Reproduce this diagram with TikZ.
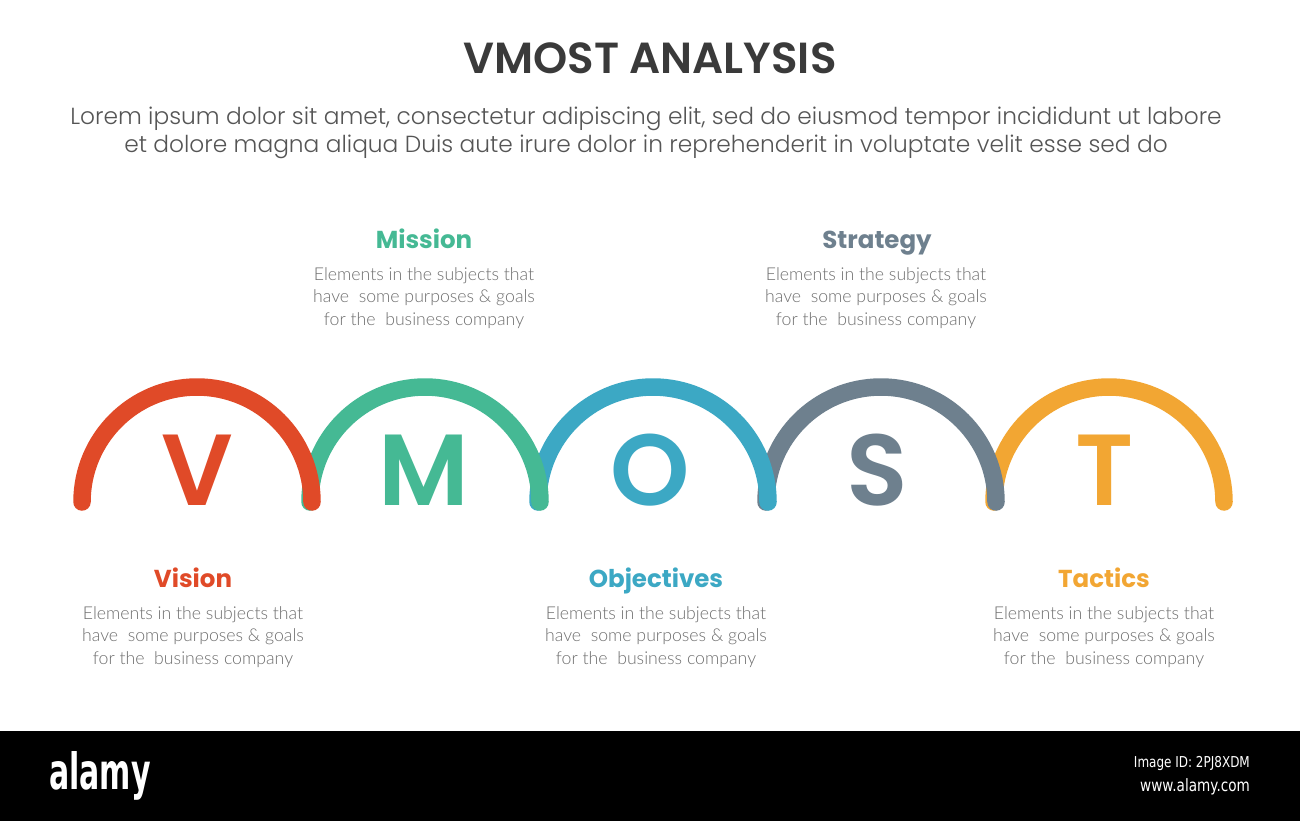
\documentclass[tikz,border=0pt]{standalone}
\usepackage{fontspec}
\setmainfont{Lato}[UprightFont=* Light]
\newfontfamily\pop{Poppins}[UprightFont=* Light]
\newfontfamily\popb{Poppins}[UprightFont=* Bold]
\newfontfamily\popsb{Poppins}[UprightFont=* SemiBold]
\newfontfamily\dv{DejaVu Sans}
\definecolor{cV}{HTML}{E04A28}
\definecolor{cM}{HTML}{45B994}
\definecolor{cO}{HTML}{3CA8C4}
\definecolor{cS}{HTML}{6E808E}
\definecolor{cT}{HTML}{F2A633}
\definecolor{tgray}{HTML}{6E6E6E}
\definecolor{ttl}{HTML}{3A3A3A}
\definecolor{sub}{HTML}{555555}
\tikzset{
  arcline/.style={line width=17.5pt, line cap=round},
  letter/.style={font=\fontsize{101}{101}\selectfont\popsb, inner sep=0pt, anchor=base},
  head/.style={font=\fontsize{24.5}{26}\selectfont\popb, inner sep=0pt, anchor=base},
  body/.style={font=\fontsize{17.7}{22.5}\selectfont, text=tgray, align=center, inner sep=0pt, anchor=north},
}
\begin{document}
\begin{tikzpicture}[x=1pt,y=-1pt]
\useasboundingbox (0,0) rectangle (1300,821);
\fill[white] (0,0) rectangle (1300,731);
\fill[black] (0,731) rectangle (1300,821);
% title
\node[font=\fontsize{43.5}{46}\selectfont\popsb, text=ttl, inner sep=0pt] (title) at (650,58) {VMOST ANALYSIS};
\node[font=\fontsize{23.3}{28.3}\selectfont\pop, text=sub, align=center, inner sep=0pt] (subtitle) at (646,133) {Lorem ipsum dolor sit amet, consectetur adipiscing elit, sed do eiusmod tempor incididunt ut labore\\et dolore magna aliqua Duis aute irure dolor in reprehenderit in voluptate velit esse sed do};
% arcs (drawn right to left so earlier ones lie on top)
\draw[arcline, cT] (994,502) arc (180:360:115);
\draw[arcline, cS] (766,502) arc (180:360:115);
\draw[arcline, cO] (538,502) arc (180:360:115);
\draw[arcline, cM] (310,502) arc (180:360:115);
\draw[arcline, cV] (82,502) arc (180:360:115);
% letters
\node[letter, text=cV] (lV) at (197,505) {V};
\node[letter, text=cM] (lM) at (424,505) {M};
\node[letter, text=cO] (lO) at (650,505) {O};
\node[letter, text=cS] (lS) at (877,505) {S};
\node[letter, text=cT] (lT) at (1105,505) {T};
% headings
\node[head, text=cV] (hV) at (193,587) {Vision};
\node[head, text=cM] (hM) at (424,248) {Mission};
\node[head, text=cO] (hO) at (656,587) {Objectives};
\node[head, text=cS] (hS) at (877,248) {Strategy};
\node[head, text=cT] (hT) at (1104,587) {Tactics};
% bodies
\node[body] (bM) at (424,267) {Elements in the subjects that\\have\ \ some purposes \& goals\\for the\ \ business company};
\node[body] (bS) at (876,267) {Elements in the subjects that\\have\ \ some purposes \& goals\\for the\ \ business company};
\node[body] (bV) at (193,606) {Elements in the subjects that\\have\ \ some purposes \& goals\\for the\ \ business company};
\node[body] (bO) at (656,606) {Elements in the subjects that\\have\ \ some purposes \& goals\\for the\ \ business company};
\node[body] (bT) at (1104,606) {Elements in the subjects that\\have\ \ some purposes \& goals\\for the\ \ business company};
% watermark band
\node[font=\fontsize{50}{50}\selectfont\dv\bfseries, text=white, inner sep=0pt, xscale=0.6, transform shape] (logo) at (100,776) {alamy};
\node[font=\fontsize{15}{15}\selectfont\dv, text=white, inner sep=0pt, anchor=east, xscale=0.8, transform shape] (imgid) at (1250,763) {Image ID: 2PJ8XDM};
\node[font=\fontsize{17}{17}\selectfont\dv, text=white, inner sep=0pt, anchor=east, xscale=0.8, transform shape] (url) at (1250,787) {www.alamy.com};
\end{tikzpicture}
\end{document}
